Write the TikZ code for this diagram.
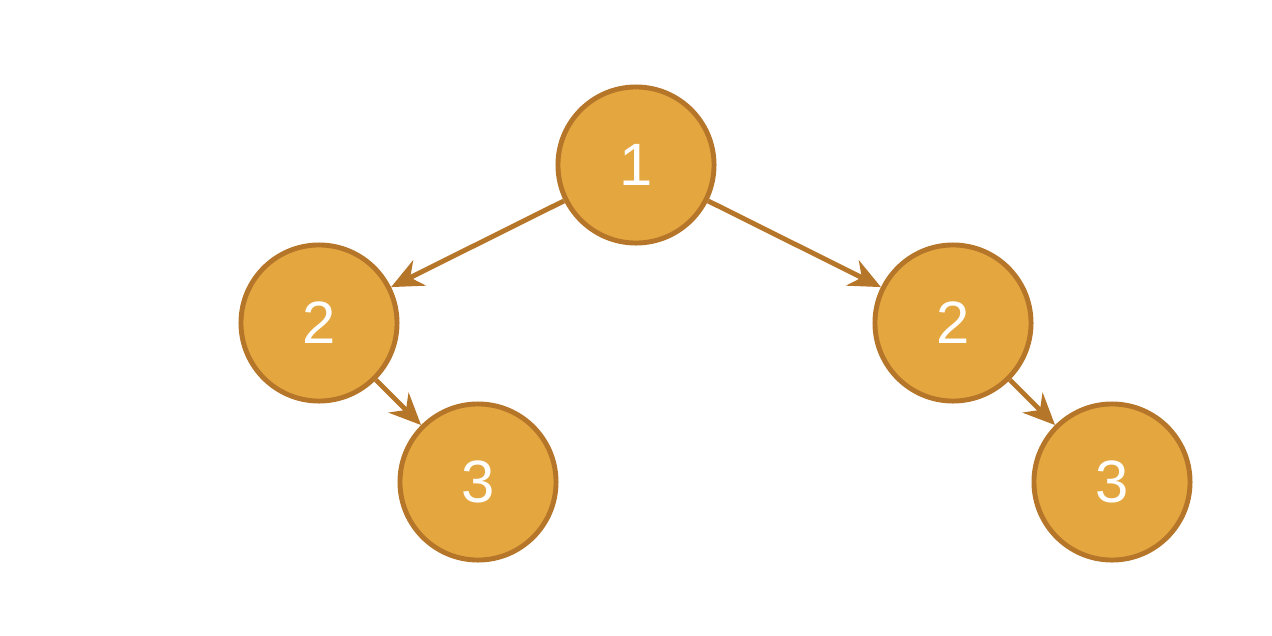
\documentclass[tikz,border=0pt]{standalone}
\usepackage{fontspec}
\setmainfont{Liberation Sans}
\usetikzlibrary{arrows.meta}
\definecolor{nfill}{HTML}{E4A63E}
\definecolor{nline}{HTML}{B5762A}
\begin{document}
\begin{tikzpicture}[x=0.01cm,y=-0.01cm,
  tnode/.style={circle,draw=nline,fill=nfill,line width=1.4pt,minimum size=1.56cm,inner sep=0pt,text=white,font=\fontsize{17}{17}\selectfont},
  edge/.style={draw=nline,line width=1.4pt,-{Stealth[length=9pt,width=8pt]}}]
\useasboundingbox (0,0) rectangle (1272,636);
\node[tnode] (a) at (636,165) {1};
\node[tnode] (b) at (319,323) {2};
\node[tnode] (c) at (953,323) {2};
\node[tnode] (d) at (478,482) {3};
\node[tnode] (e) at (1112,482) {3};
\draw[edge] (a) -- (b);
\draw[edge] (a) -- (c);
\draw[edge] (b) -- (d);
\draw[edge] (c) -- (e);
\end{tikzpicture}
\end{document}
